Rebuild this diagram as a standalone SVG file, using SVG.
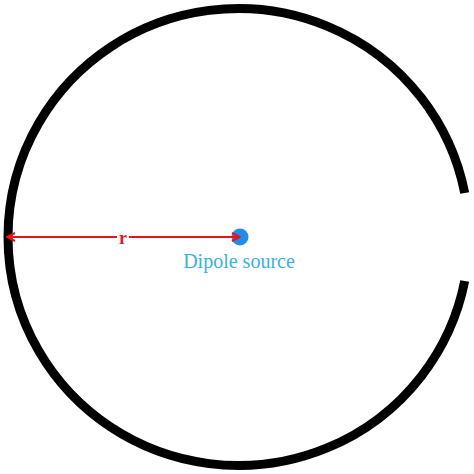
<svg xmlns="http://www.w3.org/2000/svg" width="474" height="474" viewBox="0 0 474 474">
<defs>
<style>
.ring{fill:none;stroke:#000;stroke-width:9}
.red{stroke:#e8141c;stroke-width:2;fill:none}
.lbl{font-family:"Liberation Serif",serif}
</style>
<marker id="ah" viewBox="0 0 10 10" refX="9" refY="5" markerWidth="10" markerHeight="10" markerUnits="userSpaceOnUse" orient="auto-start-reverse">
<path d="M1,1 L9,5 L1,9" fill="none" stroke="#e8141c" stroke-width="2"/>
</marker>
</defs>
<rect width="474" height="474" fill="#fff"/>
<g id="ring">
<path class="ring" d="M464.7,193 A230.5,228.5 0 1 0 464.7,281"/>
</g>
<g id="source">
<circle cx="240" cy="237" r="8.5" fill="#1e8ee8"/>
<text class="lbl" x="239" y="268" font-size="20" fill="#3ab0e2" text-anchor="middle">Dipole source</text>
</g>
<g id="connectors">
<line class="red" x1="7" y1="237" x2="240" y2="237" marker-start="url(#ah)" marker-end="url(#ah)"/>
<rect x="117" y="230" width="12" height="14" fill="#fff"/>
<text class="lbl" x="123" y="244" font-size="18" font-weight="bold" fill="#e8141c" text-anchor="middle">r</text>
</g>
</svg>
